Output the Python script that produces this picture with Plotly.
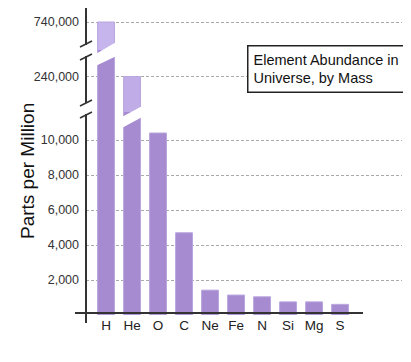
import plotly.graph_objects as go

elements = ["H", "He", "O", "C", "Ne", "Fe", "N", "Si", "Mg", "S"]
ppm = [740000, 240000, 10400, 4700, 1420, 1140, 1040, 750, 750, 610]

low_ticks = [2000, 4000, 6000, 8000, 10000]
mid_ticks = [240000]
top_ticks = [740000]

# the page body has an 8px margin; build the figure in reference pixels
OFF = 8
W, H = 411 - 2 * OFF, 362 - 2 * OFF
PL, PR, PT, PB = 86, 402, 8, 315  # plot area in reference pixels
L = PL - OFF
T = PT - OFF
R = W - (PR - OFF)
B = H - (PB - OFF)


def py(px):
    """reference pixel row -> paper y"""
    return (PB - px) / (PB - PT)


def pxx(px):
    """reference pixel column -> paper x"""
    return (px - PL) / (PR - PL)


xpos = list(range(len(elements)))

fig = go.Figure()
low_col, light_col, top_col = "#a68bd1", "#c0ace7", "#c6b5ec"
trace_colors = {
    "y": low_col,
    "y2": [low_col if i == 0 else light_col for i in xpos],
    "y3": top_col,
}
for ya in ["y", "y2", "y3"]:
    fig.add_trace(go.Bar(
        x=xpos, y=ppm, yaxis=ya, xaxis="x",
        marker=dict(color=trace_colors[ya], line=dict(color="#b9a6de", width=1)),
        showlegend=False, hoverinfo="skip",
    ))

grid = dict(showgrid=True, gridcolor="#aaaaaa", griddash="3px,2px", gridwidth=1,
            showline=False, zeroline=False, ticks="", tickformat=",d",
            tickfont=dict(family="Liberation Sans", size=12.5, color="#333333"),
            ticklabelstandoff=6, anchor="x", fixedrange=True)

d1 = py(112)
d2 = py(50)

fig.update_layout(
    width=W, height=H,
    margin=dict(l=L, r=R, t=T, b=B, pad=0),
    paper_bgcolor="white", plot_bgcolor="white",
    bargap=0.35,
    xaxis=dict(range=[-0.77, 11.38], tickvals=xpos, ticktext=elements,
               showgrid=False, zeroline=False, showline=False, ticks="",
               tickfont=dict(family="Liberation Sans", size=13.5, color="#222222"),
               anchor="y", fixedrange=True),
    yaxis=dict(domain=[0, d1], range=[0, 11600], tickvals=low_ticks, **grid),
    yaxis2=dict(domain=[d1, d2], range=[200000, 270000], tickvals=mid_ticks, **grid),
    yaxis3=dict(domain=[d2, 1], range=[700000, 760000], tickvals=top_ticks, **grid),
)

shapes = []


def gap(xc, lt, lb, rt, rb, hw=0.325, ext=0.12):
    # slanted white band cutting a bar; lt/lb left top/bottom px, rt/rb right
    s_t = (rt - lt) / (2 * hw)
    s_b = (rb - lb) / (2 * hw)
    xa, xb = xc - hw - ext, xc + hw + ext
    pts = [(xa, lt - s_t * ext), (xb, rt + s_t * ext),
           (xb, rb + s_b * ext), (xa, lb - s_b * ext)]
    path = "M " + " L ".join(f"{x},{py(p)}" for x, p in pts) + " Z"
    shapes.append(dict(type="path", path=path, xref="x", yref="paper",
                       fillcolor="white", line=dict(width=0), layer="above"))


gap(0, 53, 65, 43, 57)
gap(1, 116, 127, 107, 118)

axc = "#333333"
# y-axis segments
for top, bot in [(8, 45), (56, 103), (114, 323)]:
    shapes.append(dict(type="line", xref="paper", yref="paper",
                       x0=0, x1=0, y0=py(top), y1=py(bot),
                       line=dict(color=axc, width=2)))
# break slashes
for yc in [44, 57, 103, 115]:
    shapes.append(dict(type="line", xref="paper", yref="paper",
                       x0=pxx(80), x1=pxx(92), y0=py(yc + 3), y1=py(yc - 3),
                       line=dict(color=axc, width=1.6)))
# x-axis line
shapes.append(dict(type="line", xref="paper", yref="paper",
                   x0=pxx(75), x1=pxx(363), y0=py(313), y1=py(313),
                   line=dict(color=axc, width=2)))

fig.update_layout(shapes=shapes)

fig.add_annotation(
    xref="paper", yref="paper", x=pxx(27), y=py(171), text="Parts per Million",
    textangle=-90, showarrow=False, xanchor="center", yanchor="middle",
    font=dict(family="Liberation Sans", size=19, color="#111111"))

fig.add_annotation(
    xref="paper", yref="paper", x=pxx(247), y=py(69.5),
    text="Element Abundance in<br>Universe, by Mass", align="left",
    showarrow=False, xanchor="left", yanchor="middle",
    font=dict(family="Liberation Sans", size=14.5, color="#111111"),
    bordercolor="#222222", borderwidth=1.5, borderpad=5, bgcolor="white")

fig.write_html("out.html")
